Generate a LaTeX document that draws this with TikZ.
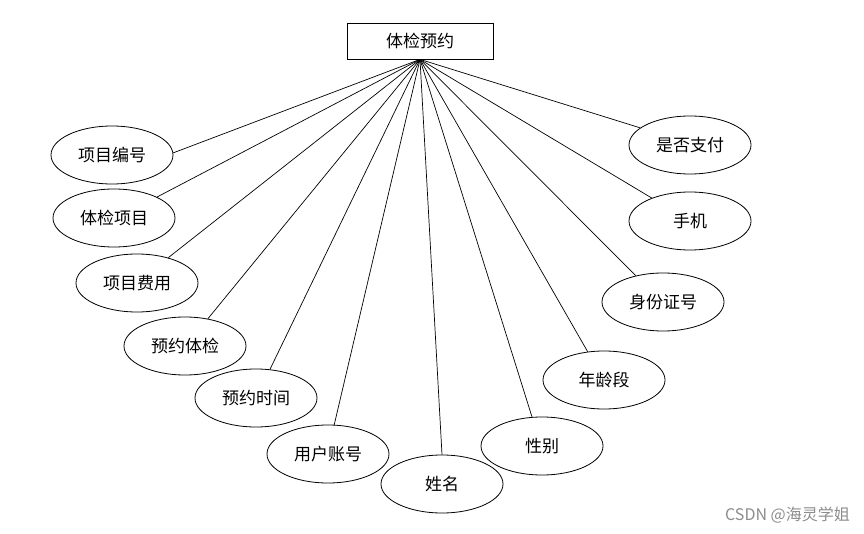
\documentclass[tikz,border=0pt]{standalone}
\usepackage{fontspec}
\newfontfamily\cjk{Noto Sans CJK SC}
\usetikzlibrary{shapes.geometric}
\tikzset{
  attr/.style={draw, ellipse, line width=0.8pt, minimum width=122pt, minimum height=58pt, inner sep=0pt, font=\cjk\fontsize{17}{19}\selectfont},
  entity/.style={draw, rectangle, line width=0.8pt, minimum width=146pt, minimum height=36pt, inner sep=0pt, font=\cjk\fontsize{17}{19}\selectfont},
  link/.style={line width=0.7pt}
}
\begin{document}
\begin{tikzpicture}[x=1pt,y=-1pt]
\useasboundingbox (0,0) rectangle (864,534);
\node[entity] (top) at (420,41) {体检预约};
\node[attr] (a1) at (112,155) {项目编号};
\node[attr] (a2) at (114,218) {体检项目};
\node[attr] (a3) at (137,283) {项目费用};
\node[attr] (a4) at (185,346) {预约体检};
\node[attr] (a5) at (256,398) {预约时间};
\node[attr] (a6) at (328,454) {用户账号};
\node[attr] (a7) at (442,484) {姓名};
\node[attr] (a8) at (542,446) {性别};
\node[attr] (a9) at (604,380) {年龄段};
\node[attr] (a10) at (663,302) {身份证号};
\node[attr] (a11) at (690,221) {手机};
\node[attr] (a12) at (690,145) {是否支付};
\draw[link] (top.south) -- (a1.2);
\draw[link] (top.south) -- (a2.26);
\draw[link] (top.south) -- (a3.39);
\draw[link] (top.south) -- (a4.50);
\draw[link] (top.south) -- (a5.64);
\draw[link] (top.south) -- (a6.78);
\draw[link] (top.south) -- (a7.north);
\draw[link] (top.south) -- (a8.109);
\draw[link] (top.south) -- (a9.120);
\draw[link] (top.south) -- (a10.136);
\draw[link] (top.south) -- (a11.149);
\draw[link] (top.south) -- (a12.161);
\node[anchor=east, text=black!45, font=\cjk\fontsize{16}{18}\selectfont, inner sep=0pt] (wm) at (850,515) {CSDN @海灵学姐};
\end{tikzpicture}
\end{document}
